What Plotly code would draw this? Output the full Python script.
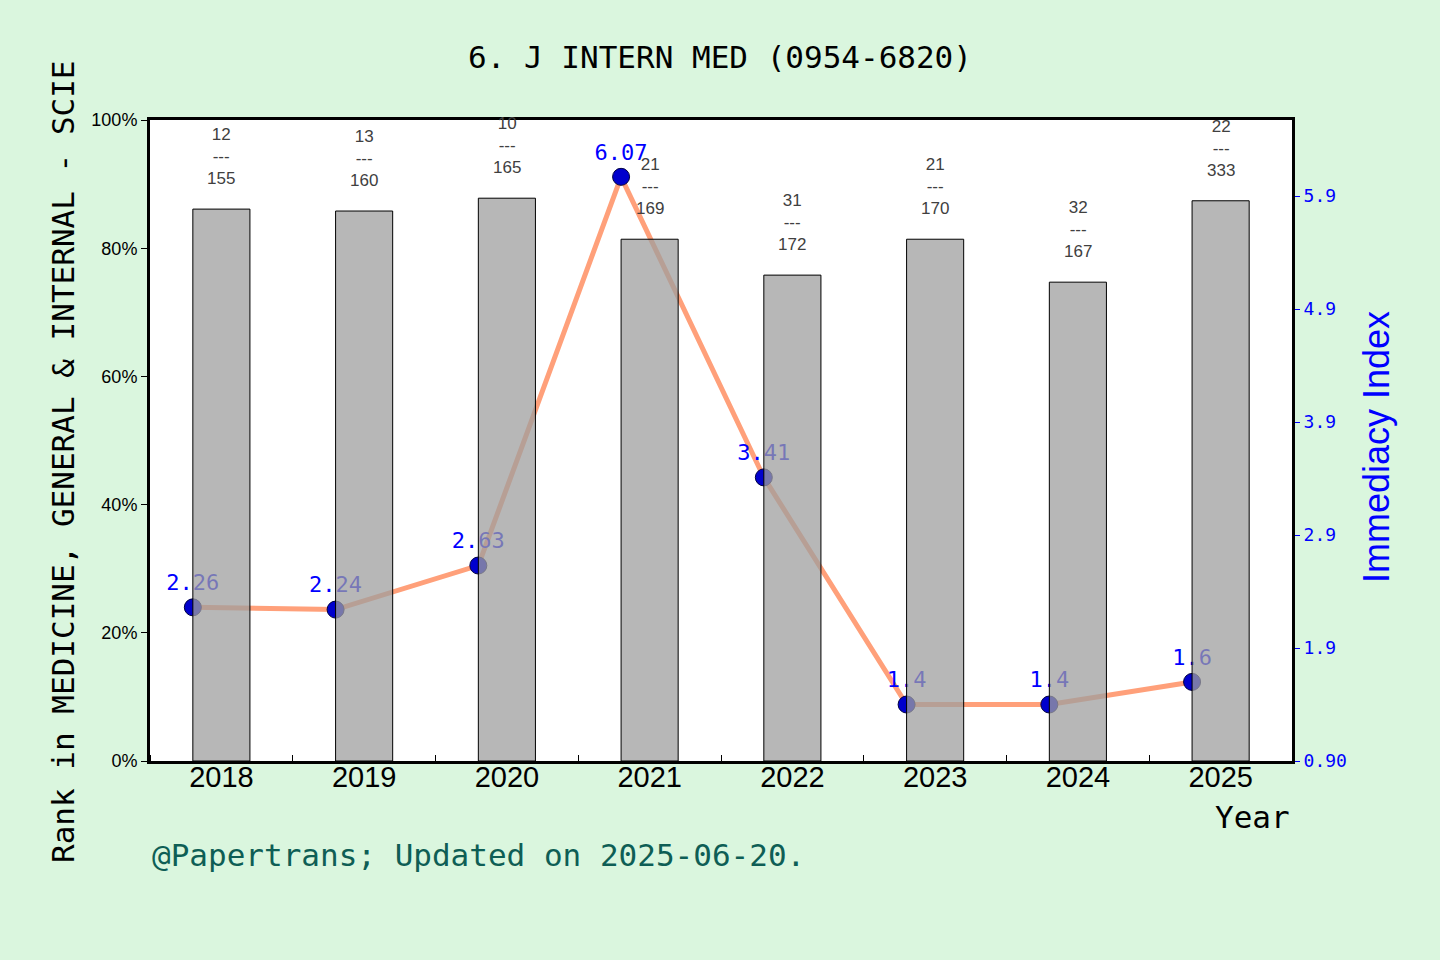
import plotly.graph_objects as go

# ---------------- data ----------------
years = ["2018", "2019", "2020", "2021", "2022", "2023", "2024", "2025"]
rank_pct = [86.1, 85.8, 87.8, 81.4, 75.8, 81.4, 74.7, 87.4]
rank_num = [12, 13, 10, 21, 31, 21, 32, 22]
rank_total = [155, 160, 165, 169, 172, 170, 167, 333]
immediacy = [2.26, 2.24, 2.63, 6.07, 3.41, 1.4, 1.4, 1.6]
immediacy_text = ["2.26", "2.24", "2.63", "6.07", "3.41", "1.4", "1.4", "1.6"]
right_tickvals = [0.90, 1.9, 2.9, 3.9, 4.9, 5.9]
right_ticktext = ["0.90", "1.9", "2.9", "3.9", "4.9", "5.9"]
left_tickvals = [0, 20, 40, 60, 80, 100]

# ---------------- style ----------------
BG = "#DAF6DE"
MONO = "DejaVu Sans Mono"
SANS = "Liberation Sans, Arial, sans-serif"
BAR_W = 0.4

xi = list(range(len(years)))
line_x = [i - BAR_W / 2 for i in xi]
bar_labels = [f"{n}<br>---<br>{t}" for n, t in zip(rank_num, rank_total)]
left_ticktext = [f"{v}%" for v in left_tickvals]

fig = go.Figure()

# line on base axis (right) so bars on overlay axis are drawn above it
fig.add_trace(go.Scatter(
    x=line_x, y=immediacy, xaxis="x", yaxis="y",
    mode="lines+markers+text",
    line=dict(color="#FFA07A", width=5),
    marker=dict(size=17, color="#0000CD", line=dict(color="#000040", width=1)),
    text=immediacy_text, textposition="top center",
    textfont=dict(family=MONO, size=22, color="#0000FF"),
    cliponaxis=False, showlegend=False, hoverinfo="skip",
))

fig.add_trace(go.Bar(
    x=xi, y=rank_pct, xaxis="x", yaxis="y2", width=BAR_W,
    marker=dict(color="rgba(159,159,159,0.75)", line=dict(color="black", width=1)),
    showlegend=False, hoverinfo="skip",
))

annotations = [
    dict(text=lab, xref="x", yref="y2", x=xv, y=yv, xanchor="center",
         yanchor="bottom", yshift=19, showarrow=False,
         font=dict(family=SANS, size=17, color="#404040"))
    for xv, yv, lab in zip(xi, rank_pct, bar_labels)
]
annotations += [
    dict(text="Rank in MEDICINE, GENERAL & INTERNAL - SCIE", textangle=-90,
         xref="paper", yref="paper", x=(63 - 150) / 1142, y=(761 - 462) / 641,
         xanchor="center", yanchor="middle", showarrow=False,
         font=dict(family=MONO, size=31, color="black")),
    dict(text="Immediacy Index", textangle=-90,
         xref="paper", yref="paper", x=(1376 - 150) / 1142, y=(761 - 447) / 641,
         xanchor="center", yanchor="middle", showarrow=False,
         font=dict(family=SANS, size=36, color="blue")),
    dict(text="Year", xref="paper", yref="paper", x=1.0, y=(761 - 817) / 641,
         xanchor="right", yanchor="middle", showarrow=False,
         font=dict(family=MONO, size=31, color="black")),
    dict(text="@Papertrans; Updated on 2025-06-20.", xref="paper", yref="paper",
         x=0.0, y=(761 - 855) / 641, xanchor="left", yanchor="middle",
         showarrow=False, font=dict(family=MONO, size=31, color="#0E5E55")),
]

fig.update_layout(
    width=1440, height=960, autosize=False,
    margin=dict(l=150, r=148, t=120, b=199, pad=0),
    paper_bgcolor=BG, plot_bgcolor="white",
    title=dict(text="6. J INTERN MED (0954-6820)", x=0.5, xanchor="center",
               y=1 - 57 / 960, yanchor="middle",
               font=dict(family=MONO, size=31, color="black")),
    xaxis=dict(
        range=[-0.5, len(years) - 0.5], tickmode="array", tickvals=xi, ticktext=years,
        ticks="", tickfont=dict(family=SANS, size=29, color="black"),
        ticklabelstandoff=-12,
        showline=True, linecolor="black", linewidth=3, mirror=True,
        showgrid=False, zeroline=False,
        minor=dict(tickmode="linear", tick0=0.5, dtick=1, ticks="inside",
                   ticklen=6, tickcolor="black", tickwidth=1, showgrid=False),
    ),
    yaxis=dict(
        side="right", range=[0.9, 6.573],
        tickmode="array", tickvals=right_tickvals, ticktext=right_ticktext,
        ticks="outside", ticklen=5, tickcolor="blue", tickwidth=1,
        tickfont=dict(family=MONO, size=18, color="blue"),
        showline=True, linecolor="black", linewidth=3,
        showgrid=False, zeroline=False,
    ),
    yaxis2=dict(
        overlaying="y", side="left", range=[0, 100],
        tickmode="array", tickvals=left_tickvals, ticktext=left_ticktext,
        ticks="outside", ticklen=6, tickcolor="black", tickwidth=1,
        tickfont=dict(family=SANS, size=18, color="black"),
        showline=True, linecolor="black", linewidth=3,
        showgrid=False, zeroline=False,
    ),
    annotations=annotations,
)

fig.write_html("out.html")
